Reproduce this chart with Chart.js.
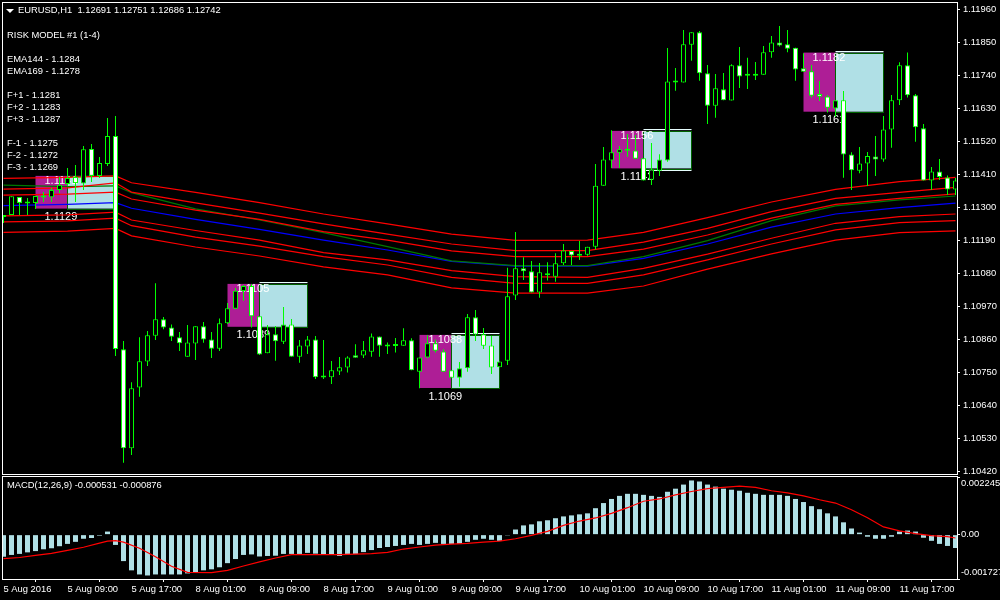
<!DOCTYPE html>
<html>
<head>
<meta charset="utf-8">
<title>EURUSD,H1</title>
<script src="https://cdn.jsdelivr.net/npm/chart.js@4"></script>
<style>
    html, body { margin: 0; padding: 0; background: #000; }
    body { width: 1000px; height: 600px; overflow: hidden; position: relative; }
    canvas { position: absolute; left: 0; }
    #priceChart { top: 0; }
    #macdChart { top: 476px; }
    .note {
        position: absolute; left: 7px; color: #fff; white-space: pre;
        font: 9.4px/12px "Liberation Sans", sans-serif;
    }
</style>
</head>
<body>
<canvas id="priceChart" width="1000" height="476" style="width:1000px;height:476px"></canvas>
<canvas id="macdChart" width="1000" height="124" style="width:1000px;height:124px"></canvas>
<div id="notes"></div>

<script>
// candles, one value per hour bar
const opens = [1.11269,1.11276,1.11336,1.11321,1.11316,1.11339,1.11335,1.11359,1.11379,1.11402,1.11381,1.11496,1.11406,1.11446,1.11539,1.10828,1.10498,1.10701,1.10787,1.10873,
    1.10928,1.10901,1.10868,1.10803,1.10847,1.10905,1.10861,1.10830,1.10915,1.10963,1.11022,1.11039,1.10938,1.10815,1.10878,1.10853,1.10911,1.10803,1.10837,1.10861,
    1.10737,1.10735,1.10754,1.10767,1.10808,1.10807,1.10820,1.10871,1.10842,1.10842,1.10840,1.10858,1.10753,1.10801,1.10848,1.10821,1.10758,1.10733,1.10765,1.10935,
    1.10878,1.10841,1.10768,1.10790,1.11007,1.11098,1.11088,1.11017,1.11081,1.11070,1.11115,1.11156,1.11143,1.11143,1.11170,1.11373,1.11457,1.11483,1.11494,1.11491,
    1.11465,1.11393,1.11423,1.11457,1.11722,1.11717,1.11843,1.11885,1.11748,1.11640,1.11695,1.11657,1.11775,1.11743,1.11743,1.11743,1.11818,1.11851,1.11845,1.11833,
    1.11765,1.11755,1.11679,1.11671,1.11631,1.11658,1.11477,1.11423,1.11447,1.11471,1.11461,1.11561,1.11658,1.11775,1.11675,1.11565,1.11391,1.11421,1.11401,1.11361];
const highs = [1.11276,1.11338,1.11336,1.11332,1.11339,1.11352,1.11366,1.11402,1.11432,1.11442,1.11506,1.11512,1.11469,1.11599,1.11606,1.10856,1.10718,1.10868,1.10889,1.11048,
    1.10936,1.10911,1.10886,1.10909,1.10905,1.10919,1.10886,1.10931,1.10982,1.11032,1.11042,1.11046,1.10938,1.10909,1.10906,1.10969,1.10929,1.10859,1.10872,1.10872,
    1.10859,1.10789,1.10802,1.10805,1.10845,1.10856,1.10881,1.10871,1.10851,1.10866,1.10898,1.10865,1.10801,1.10875,1.10861,1.10828,1.10758,1.10786,1.10946,1.10959,
    1.10899,1.10872,1.10787,1.11100,1.11219,1.11135,1.11122,1.11116,1.11118,1.11148,1.11179,1.11156,1.11189,1.11170,1.11446,1.11502,1.11558,1.11506,1.11546,1.11542,
    1.11465,1.11516,1.11478,1.11832,1.11766,1.11892,1.11885,1.11889,1.11776,1.11746,1.11749,1.11778,1.11836,1.11800,1.11786,1.11839,1.11872,1.11906,1.11892,1.11833,
    1.11815,1.11776,1.11722,1.11676,1.11658,1.11689,1.11485,1.11502,1.11486,1.11539,1.11606,1.11676,1.11785,1.11817,1.11679,1.11579,1.11436,1.11462,1.11407,1.11399];
const lows = [1.11249,1.11276,1.11276,1.11276,1.11296,1.11319,1.11319,1.11349,1.11372,1.11319,1.11359,1.11386,1.11399,1.11439,1.10806,1.10450,1.10476,1.10670,1.10772,1.10859,
    1.10895,1.10856,1.10822,1.10803,1.10792,1.10850,1.10799,1.10822,1.10912,1.10962,1.10990,1.10901,1.10809,1.10815,1.10790,1.10846,1.10803,1.10783,1.10812,1.10729,
    1.10729,1.10712,1.10742,1.10751,1.10800,1.10799,1.10803,1.10803,1.10812,1.10817,1.10840,1.10758,1.10698,1.10798,1.10817,1.10753,1.10733,1.10703,1.10753,1.10856,
    1.10829,1.10746,1.10768,1.10776,1.10992,1.11059,1.11017,1.11000,1.11057,1.11053,1.11109,1.11109,1.11126,1.11140,1.11161,1.11373,1.11432,1.11432,1.11470,1.11463,
    1.11391,1.11376,1.11406,1.11453,1.11690,1.11717,1.11790,1.11723,1.11579,1.11600,1.11658,1.11657,1.11699,1.11696,1.11726,1.11743,1.11800,1.11837,1.11818,1.11723,
    1.11753,1.11667,1.11656,1.11617,1.11603,1.11400,1.11359,1.11415,1.11372,1.11406,1.11453,1.11500,1.11642,1.11667,1.11520,1.11391,1.11359,1.11392,1.11342,1.11342];
const closes = [1.11272,1.11338,1.11316,1.11314,1.11339,1.11334,1.11359,1.11376,1.11399,1.11382,1.11495,1.11406,1.11449,1.11539,1.10829,1.10498,1.10698,1.10788,1.10875,1.10928,
    1.10901,1.10870,1.10848,1.10851,1.10905,1.10861,1.10830,1.10915,1.10965,1.11023,1.11039,1.10938,1.10811,1.10878,1.10855,1.10911,1.10803,1.10841,1.10861,1.10735,
    1.10734,1.10758,1.10768,1.10801,1.10800,1.10825,1.10871,1.10840,1.10837,1.10839,1.10858,1.10758,1.10801,1.10848,1.10823,1.10753,1.10733,1.10765,1.10935,1.10877,
    1.10840,1.10767,1.10787,1.11005,1.11098,1.11088,1.11017,1.11085,1.11075,1.11115,1.11157,1.11141,1.11140,1.11170,1.11373,1.11461,1.11485,1.11495,1.11490,1.11463,
    1.11391,1.11427,1.11461,1.11721,1.11717,1.11845,1.11885,1.11748,1.11640,1.11698,1.11658,1.11775,1.11737,1.11740,1.11740,1.11818,1.11851,1.11841,1.11830,1.11761,
    1.11753,1.11673,1.11670,1.11633,1.11658,1.11477,1.11425,1.11447,1.11472,1.11461,1.11561,1.11658,1.11775,1.11675,1.11568,1.11391,1.11421,1.11402,1.11361,1.11391];

// moving average bands, read at these bar numbers
const bandBars = [0,8,14,16,24,32,40,48,56,64,73,80,88,96,104,112,119];
const bandUp3 = [1.11398,1.11401,1.11406,1.11383,1.11351,1.11317,1.11279,1.11246,1.11212,1.11191,1.11192,1.11218,1.11267,1.11319,1.11361,1.11387,1.11401];
const bandUp2 = [1.11362,1.11366,1.11383,1.11352,1.11316,1.11282,1.11246,1.11212,1.11179,1.11157,1.11157,1.11185,1.11231,1.11287,1.11331,1.11351,1.11368];
const bandUp1 = [1.11342,1.11345,1.11352,1.11329,1.11292,1.11261,1.11220,1.11192,1.11156,1.11137,1.11137,1.11162,1.11209,1.11265,1.11311,1.11331,1.11346];
const ema144 = [1.11375,1.11370,1.11373,1.11350,1.11296,1.11259,1.11217,1.11170,1.11123,1.11107,1.11107,1.11137,1.11190,1.11257,1.11306,1.11326,1.11339];
const ema169 = [1.11307,1.11311,1.11317,1.11298,1.11261,1.11228,1.11192,1.11159,1.11121,1.11105,1.11105,1.11131,1.11179,1.11235,1.11279,1.11300,1.11315];
const bandDown1 = [1.11273,1.11276,1.11285,1.11259,1.11224,1.11192,1.11150,1.11126,1.11090,1.11070,1.11068,1.11098,1.11145,1.11198,1.11248,1.11270,1.11279];
const bandDown2 = [1.11253,1.11256,1.11265,1.11240,1.11202,1.11172,1.11137,1.11109,1.11068,1.11048,1.11048,1.11076,1.11126,1.11179,1.11226,1.11250,1.11257];
const bandDown3 = [1.11218,1.11222,1.11231,1.11206,1.11169,1.11139,1.11103,1.11076,1.11033,1.11015,1.11015,1.11039,1.11095,1.11146,1.11192,1.11217,1.11223];

// risk boxes
const boxStart = [4,28,52,76,100];
const boxMid = [8,32,56,80,104];
const boxEnd = [14,38,62,86,110];
const boxHigh = [1.11406,1.11046,1.10876,1.11556,1.11817];
const boxLow = [1.11297,1.10903,1.10699,1.11431,1.11620];
const boxHighLabels = ["1.1141","1.1105","1.1088","1.1156","1.1182"];
const boxLowLabels = ["1.1129","1.1089","1.1069","1.1142","1.1161"];
const boxTopEdge = [false,true,true,true,true];
const boxBottomEdge = [false,false,false,true,false];

// macd pane
const macdBars = [-0.00086,-0.00079,-0.00075,-0.00069,-0.00064,-0.00057,-0.00053,-0.00045,-0.00036,-0.00028,-0.00016,-0.00013,-0.00004,0.00012,-0.00040,-0.00103,-0.00139,-0.00155,-0.00159,-0.00155,
    -0.00155,-0.00155,-0.00155,-0.00151,-0.00146,-0.00139,-0.00135,-0.00127,-0.00111,-0.00095,-0.00079,-0.00077,-0.00085,-0.00083,-0.00082,-0.00075,-0.00075,-0.00075,-0.00071,-0.00074,
    -0.00078,-0.00079,-0.00083,-0.00075,-0.00075,-0.00068,-0.00060,-0.00052,-0.00048,-0.00044,-0.00040,-0.00036,-0.00040,-0.00036,-0.00032,-0.00036,-0.00036,-0.00036,-0.00028,-0.00020,
    -0.00016,-0.00020,-0.00024,-0.00003,0.00020,0.00036,0.00040,0.00052,0.00056,0.00064,0.00071,0.00075,0.00079,0.00083,0.00103,0.00123,0.00139,0.00151,0.00159,0.00159,
    0.00155,0.00151,0.00147,0.00167,0.00179,0.00195,0.00211,0.00207,0.00195,0.00187,0.00179,0.00175,0.00171,0.00163,0.00159,0.00155,0.00155,0.00155,0.00151,0.00139,
    0.00127,0.00111,0.00099,0.00083,0.00071,0.00048,0.00024,0.00008,-0.00008,-0.00016,-0.00016,-0.00008,0.00012,0.00016,0.00012,-0.00012,-0.00024,-0.00036,-0.00044,-0.00052];
const signalBars = [0,2,4,6,8,10,12,13,14,15,17,19,21,23,26,28,30,32,34,36,42,46,48,50,52,54,56,58,60,62,64,66,68,70,72,74,76,78,80,82,84,86,88,90,92,94,96,98,100,102,104,106,108,110,112,114,116,118,119];
const signalValues = [-0.00093,-0.00089,-0.00081,-0.00073,-0.00061,-0.00049,-0.00033,-0.00025,-0.00023,-0.00029,-0.00053,-0.00086,-0.00123,-0.00147,-0.00148,-0.00139,-0.00122,-0.00106,-0.00091,-0.00078,-0.00078,
    -0.00074,-0.00069,-0.00056,-0.00048,-0.00041,-0.00037,-0.00034,-0.00029,-0.00025,-0.00016,-0.00003,0.00013,0.00036,0.00053,0.00065,0.00083,0.00105,0.00130,0.00139,
    0.00155,0.00168,0.00179,0.00184,0.00189,0.00184,0.00171,0.00163,0.00151,0.00136,0.00123,0.00097,0.00066,0.00030,0.00015,0.00004,-0.00004,-0.00008,-0.00013];

// axes
const priceTicks = [1.11960,1.11850,1.11740,1.11630,1.11520,1.11410,1.11300,1.11190,1.11080,1.10970,1.10860,1.10750,1.10640,1.10530,1.10420];
const macdTicks = [0.002245,0,-0.001727];
const macdTickLabels = [["","0.002245"],"0.00",["-0.001727",""]];
const dateBars = [0,8,16,24,32,40,48,56,64,72,80,88,96,104,112];
const dateLabels = ["5 Aug 2016","5 Aug 09:00","5 Aug 17:00","8 Aug 01:00","8 Aug 09:00","8 Aug 17:00","9 Aug 01:00","9 Aug 09:00","9 Aug 17:00","10 Aug 01:00","10 Aug 09:00","10 Aug 17:00","11 Aug 01:00","11 Aug 09:00","11 Aug 17:00"];

// text in the top left corner
const notes = [
    ["EURUSD,H1  1.12691 1.12751 1.12686 1.12742", 4, 18],
    ["RISK MODEL #1 (1-4)", 29, 7],
    ["EMA144 - 1.1284", 53, 7],
    ["EMA169 - 1.1278", 65, 7],
    ["F+1 - 1.1281", 89, 7],
    ["F+2 - 1.1283", 101, 7],
    ["F+3 - 1.1287", 113, 7],
    ["F-1 - 1.1275", 137, 7],
    ["F-2 - 1.1272", 149, 7],
    ["F-3 - 1.1269", 161, 7],
];

const PRICE_FONT = { family: "'Liberation Sans'", size: 9.4 };
const MACD_FONT = { family: "'Liberation Sans'", size: 9.4, lineHeight: 1.4 };
const DATE_FONT = { family: "'Liberation Sans'", size: 9.4 };
const PURPLE = "#ae1e96";
const POWDER = "#b0e0e6";
const DARK_GREEN = "#006400";

// half a pixel past the left edge keeps one pixel wicks crisp, 8px per bar
const BAR_MIN = -0.0625;
const BAR_MAX = 119.1875;

function bandLine(values, color) {
    return {
        type: "line",
        data: bandBars.map((bar, i) => ({ x: bar, y: values[i] })),
        borderColor: color,
        borderWidth: 1.2,
        pointRadius: 0,
        tension: 0,
        order: 2,
    };
}

// tick labels must not push the panes away from their edges
function noLabelPadding(scale) {
    scale.paddingTop = 0;
    scale.paddingBottom = 0;
    scale.paddingLeft = 0;
    scale.paddingRight = 0;
}

// boxes and their labels go under the candles
const boxPlugin = {
    id: "riskBoxes",
    beforeDatasetsDraw(chart) {
        const ctx = chart.ctx;
        const x = chart.scales.x;
        const y = chart.scales.y;
        ctx.save();
        boxStart.forEach((start, i) => {
            const left = x.getPixelForValue(start);
            const mid = x.getPixelForValue(boxMid[i]);
            const right = x.getPixelForValue(boxEnd[i]);
            const top = y.getPixelForValue(boxHigh[i]);
            const bottom = y.getPixelForValue(boxLow[i]);
            ctx.fillStyle = PURPLE;
            ctx.fillRect(left, top, mid - left, bottom - top);
            ctx.fillStyle = POWDER;
            ctx.fillRect(mid, top, right - mid, bottom - top);
            ctx.strokeStyle = DARK_GREEN;
            ctx.lineWidth = 1;
            ctx.strokeRect(mid, Math.round(top) + 0.5, right - mid, Math.round(bottom - top));
            ctx.strokeStyle = "#e8ffff";
            if (boxTopEdge[i]) {
                ctx.beginPath();
                ctx.moveTo(mid, Math.round(top) - 1.5);
                ctx.lineTo(right, Math.round(top) - 1.5);
                ctx.stroke();
            }
            if (boxBottomEdge[i]) {
                ctx.beginPath();
                ctx.moveTo(mid, Math.round(bottom) + 2.5);
                ctx.lineTo(right, Math.round(bottom) + 2.5);
                ctx.stroke();
            }
            ctx.fillStyle = "#fff";
            ctx.font = "11px 'Liberation Sans'";
            ctx.textAlign = "left";
            ctx.textBaseline = "middle";
            ctx.fillText(boxHighLabels[i], left + 9, top + 5.5);
            ctx.fillText(boxLowLabels[i], left + 9, bottom + 8.5);
        });
        ctx.restore();
    },
};

const framePlugin = {
    id: "frame",
    afterDraw(chart) {
        const area = chart.chartArea;
        const ctx = chart.ctx;
        ctx.save();
        ctx.strokeStyle = "#fff";
        ctx.lineWidth = 1;
        ctx.strokeRect(area.left - 0.5, Math.round(area.top) - 0.5, area.right - area.left + 1, Math.round(area.bottom - area.top) + 1);
        ctx.restore();
    },
};

function initPriceChart() {
    const isDown = opens.map((open, i) => closes[i] < open);
    new Chart(document.getElementById("priceChart"), {
        type: "bar",
        data: {
            datasets: [
                {
                    data: opens.map((open, i) => ({ x: i, y: [open, closes[i]] })),
                    backgroundColor: isDown.map(down => (down ? "#fff" : "#000")),
                    borderColor: "#00ff00",
                    borderWidth: 1,
                    borderSkipped: false,
                    barThickness: 5,
                    minBarLength: 2,
                    inflateAmount: 0,
                    grouped: false,
                    order: 0,
                },
                {
                    data: lows.map((low, i) => ({ x: i, y: [low, highs[i]] })),
                    backgroundColor: "#00ff00",
                    barThickness: 1,
                    inflateAmount: 0,
                    grouped: false,
                    order: 1,
                },
                bandLine(bandUp3, "#ff0000"),
                bandLine(bandUp2, "#ff0000"),
                bandLine(bandUp1, "#ff0000"),
                bandLine(ema144, "#007800"),
                bandLine(ema169, "#0000ff"),
                bandLine(bandDown1, "#ff0000"),
                bandLine(bandDown2, "#ff0000"),
                bandLine(bandDown3, "#ff0000"),
            ],
        },
        options: {
            responsive: false,
            animation: false,
            events: [],
            layout: { padding: { left: 3, top: 3, bottom: 2, right: 0 } },
            plugins: { legend: { display: false }, tooltip: { enabled: false } },
            scales: {
                x: { type: "linear", min: BAR_MIN, max: BAR_MAX, offset: false, display: false },
                y: {
                    position: "right",
                    min: 1.104123,
                    max: 1.119823,
                    afterFit(scale) { scale.width = 43; noLabelPadding(scale); },
                    afterBuildTicks(scale) { scale.ticks = priceTicks.map(v => ({ value: v })); },
                    grid: { drawOnChartArea: false, color: "#fff", tickLength: 3, tickColor: "#fff" },
                    border: { color: "#fff" },
                    ticks: {
                        color: "#fff",
                        font: PRICE_FONT,
                        padding: 3,
                        autoSkip: false,
                        callback: value => value.toFixed(5),
                    },
                },
            },
        },
        plugins: [boxPlugin, framePlugin],
    });
}

function initMacdChart() {
    new Chart(document.getElementById("macdChart"), {
        type: "bar",
        data: {
            datasets: [
                {
                    type: "line",
                    data: signalBars.map((bar, i) => ({ x: bar, y: signalValues[i] })),
                    borderColor: "#ff0000",
                    borderWidth: 1.2,
                    pointRadius: 0,
                    tension: 0,
                    order: 0,
                },
                {
                    data: macdBars.map((value, i) => ({ x: i, y: value })),
                    backgroundColor: POWDER,
                    barThickness: 5,
                    inflateAmount: 0,
                    grouped: false,
                    order: 1,
                },
            ],
        },
        options: {
            responsive: false,
            animation: false,
            events: [],
            layout: { padding: { left: 3, top: 1, bottom: 0, right: 0 } },
            plugins: { legend: { display: false }, tooltip: { enabled: false } },
            scales: {
                x: {
                    type: "linear",
                    min: BAR_MIN,
                    max: BAR_MAX,
                    offset: false,
                    afterFit(scale) { scale.height = 21; noLabelPadding(scale); },
                    afterBuildTicks(scale) { scale.ticks = dateBars.map(v => ({ value: v })); },
                    grid: { drawOnChartArea: false, color: "#fff", tickLength: 3, tickColor: "#fff" },
                    border: { color: "#fff" },
                    ticks: {
                        color: "#fff",
                        font: DATE_FONT,
                        align: "start",
                        padding: 2,
                        autoSkip: false,
                        maxRotation: 0,
                        callback: value => dateLabels[dateBars.indexOf(value)],
                    },
                },
                y: {
                    position: "right",
                    min: -0.001727,
                    max: 0.002245,
                    afterFit(scale) { scale.width = 43; noLabelPadding(scale); },
                    afterBuildTicks(scale) { scale.ticks = macdTicks.map(v => ({ value: v })); },
                    grid: { drawOnChartArea: false, color: "#fff", tickLength: 3, tickColor: "#fff" },
                    border: { color: "#fff" },
                    ticks: {
                        color: "#fff",
                        font: MACD_FONT,
                        padding: 1,
                        autoSkip: false,
                        callback: value => macdTickLabels[macdTicks.indexOf(value)],
                    },
                },
            },
        },
        plugins: [framePlugin],
    });
}

function addNotes() {
    const box = document.getElementById("notes");
    notes.forEach(([text, top, left]) => {
        const div = document.createElement("div");
        div.className = "note";
        div.style.top = top + "px";
        div.style.left = left + "px";
        div.textContent = text;
        box.appendChild(div);
    });
    const arrow = document.createElement("div");
    arrow.className = "note";
    arrow.style.cssText = "top:9px;left:6px;width:0;height:0;border-left:4px solid transparent;border-right:4px solid transparent;border-top:4px solid #fff;";
    box.appendChild(arrow);
    const macd = document.createElement("div");
    macd.className = "note";
    macd.style.top = "479px";
    macd.textContent = "MACD(12,26,9) -0.000531 -0.000876";
    box.appendChild(macd);
}

document.addEventListener("DOMContentLoaded", () => {
    initPriceChart();
    initMacdChart();
    addNotes();
});
</script>
</body>
</html>
